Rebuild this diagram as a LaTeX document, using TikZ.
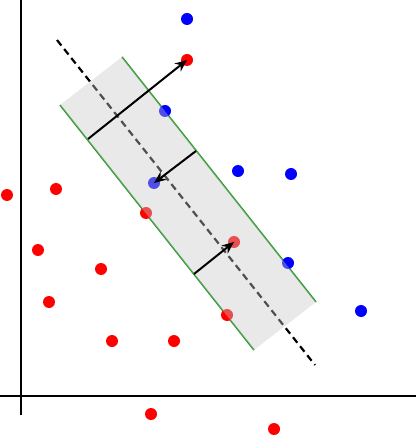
\documentclass[tikz,border=0pt]{standalone}
\usetikzlibrary{arrows.meta}
\definecolor{bandgreen}{RGB}{40,150,40}
\definecolor{ptred}{RGB}{255,0,0}
\definecolor{ptblue}{RGB}{0,0,255}
\tikzset{
  axis/.style={line width=2pt, black},
  rdot/.style={circle, fill=ptred, inner sep=0pt, minimum size=12pt},
  bdot/.style={circle, fill=ptblue, inner sep=0pt, minimum size=12pt},
  edge/.style={line width=1.6pt, bandgreen},
  midline/.style={line width=2.2pt, black, dash pattern=on 7pt off 4.5pt},
  bandfill/.style={fill=black!22, fill opacity=0.4, draw=none},
  perp/.style={line width=2pt, black, -{Stealth[length=12pt,width=10pt]}}
}
\begin{document}
\begin{tikzpicture}[x=1pt,y=-1pt]
\useasboundingbox (0,0) rectangle (416,435);
% axes
\coordinate (ytop) at (21,0);
\coordinate (ybot) at (21,415);
\coordinate (xl) at (0,396);
\coordinate (xr) at (416,396);
\draw[axis] (ytop) -- (ybot);
\draw[axis] (xl) -- (xr);
% band corners
\coordinate (cT) at (122,57);
\coordinate (cL) at (60,105);
\coordinate (cR) at (316,302);
\coordinate (cB) at (254,350);
% middle dashed line
\coordinate (m1) at (57,40);
\coordinate (m2) at (315,365);
\draw[midline] (m1) -- (m2);
% green margins
\draw[edge] (cL) -- (cB);
\draw[edge] (cT) -- (cR);
% points
\node[bdot] (b1) at (187,19) {};
\node[bdot] (b2) at (165,111) {};
\node[bdot] (b3) at (154,183) {};
\node[bdot] (b4) at (238,171) {};
\node[bdot] (b5) at (291,174) {};
\node[bdot] (b6) at (288,263) {};
\node[bdot] (b7) at (361,311) {};
\node[rdot] (r1) at (187,60) {};
\node[rdot] (r2) at (56,189) {};
\node[rdot] (r3) at (7,195) {};
\node[rdot] (r4) at (146,213) {};
\node[rdot] (r5) at (38,250) {};
\node[rdot] (r6) at (101,269) {};
\node[rdot] (r7) at (234,242) {};
\node[rdot] (r8) at (49,302) {};
\node[rdot] (r9) at (227,315) {};
\node[rdot] (r10) at (112,341) {};
\node[rdot] (r11) at (174,341) {};
\node[rdot] (r12) at (151,414) {};
\node[rdot] (r13) at (274,429) {};
% translucent band
\path[bandfill] (cL) -- (cT) -- (cR) -- (cB) -- cycle;
% perpendicular arrows
\coordinate (a1) at (88,139);
\coordinate (a2) at (196,151);
\coordinate (a3) at (194,274);
\draw[perp] (a1) -- (r1.center);
\draw[perp] (a2) -- (b3.center);
\draw[perp] (a3) -- (r7.center);
\end{tikzpicture}
\end{document}
